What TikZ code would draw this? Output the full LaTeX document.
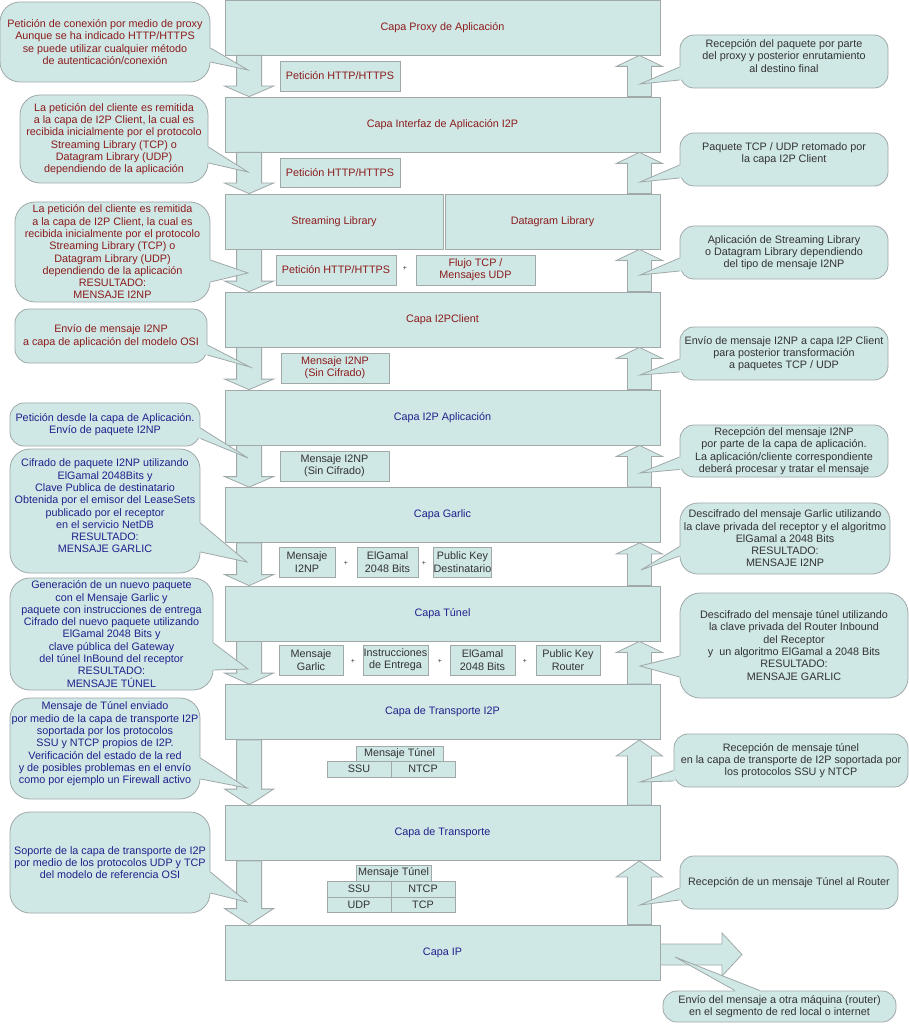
\documentclass[tikz,border=0pt]{standalone}
\usepackage{fontspec}
\setmainfont{Liberation Sans}
\definecolor{fillc}{RGB}{207,231,229}
\definecolor{edgec}{RGB}{160,168,168}
\definecolor{redt}{RGB}{140,28,28}
\definecolor{bluet}{RGB}{32,32,140}
\definecolor{grayt}{RGB}{51,51,51}
\tikzset{
  base/.style={draw=edgec, fill=fillc, line width=0.8pt, inner sep=0pt, align=center, font=\fontsize{10.8}{12.3}\selectfont},
  layer/.style={base, minimum height=55pt},
  pkt/.style={base, minimum height=30pt},
  call/.style={base, rounded corners=14pt},
  bigcall/.style={base, rounded corners=20pt},
  ctext/.style={inner sep=0pt, align=center, font=\fontsize{10.8}{12.3}\selectfont},
  plus/.style={inner sep=0pt, font=\fontsize{7}{8}\selectfont, text=grayt},
  arr/.style={draw=edgec, fill=fillc, line width=0.8pt, line join=miter},
  ptrline/.style={draw=edgec, line width=0.8pt, line join=miter},
  tred/.style={text=redt},
  tblue/.style={text=bluet},
  tgray/.style={text=grayt}
}
% down arrow: from layer #1 to layer #2, head height #3
\newcommand\darr[3]{\draw[arr] ([xshift=12pt]#1.south west) -- ([xshift=12pt,yshift=#3]#2.north west) -- ([yshift=#3]#2.north west) -- ([xshift=24.5pt]#2.north west) -- ([xshift=49pt,yshift=#3]#2.north west) -- ([xshift=37pt,yshift=#3]#2.north west) -- ([xshift=37pt]#1.south west) -- cycle;}
% up arrow: from lower layer #1 to upper layer #2, head height #3
\newcommand\uarr[3]{\draw[arr] ([xshift=-33pt]#1.north east) -- ([xshift=-33pt,yshift=-#3]#2.south east) -- ([xshift=-44pt,yshift=-#3]#2.south east) -- ([xshift=-21pt]#2.south east) -- ([xshift=2pt,yshift=-#3]#2.south east) -- ([xshift=-9pt,yshift=-#3]#2.south east) -- ([xshift=-9pt]#1.north east) -- cycle;}
% callout pointers
\newcommand\ptrE[4]{\fill[fillc] ([xshift=-2pt,yshift=#2]#1.east) -- ([yshift=#2]#1.east) -- (#4) -- ([yshift=#3]#1.east) -- ([xshift=-2pt,yshift=#3]#1.east) -- cycle;
  \draw[ptrline] ([yshift=#2]#1.east) -- (#4) -- ([yshift=#3]#1.east);}
\newcommand\ptrW[4]{\fill[fillc] ([xshift=2pt,yshift=#2]#1.west) -- ([yshift=#2]#1.west) -- (#4) -- ([yshift=#3]#1.west) -- ([xshift=2pt,yshift=#3]#1.west) -- cycle;
  \draw[ptrline] ([yshift=#2]#1.west) -- (#4) -- ([yshift=#3]#1.west);}
\newcommand\ptrN[4]{\fill[fillc] ([xshift=#2,yshift=-2pt]#1.north) -- ([xshift=#2]#1.north) -- (#4) -- ([xshift=#3]#1.north) -- ([xshift=#3,yshift=-2pt]#1.north) -- cycle;
  \draw[ptrline] ([xshift=#2]#1.north) -- (#4) -- ([xshift=#3]#1.north);}
\begin{document}
\begin{tikzpicture}[x=1pt,y=-1pt]
\fill[white] (0,0) rectangle (909,1024);
\useasboundingbox (0,0) rectangle (909,1024);

% ---------- layers ----------
\node[layer,tred,minimum width=435pt] (Lprox) at (442.5,27.5) {Capa Proxy de Aplicación};
\node[layer,tred,minimum width=435pt] (Lint) at (442.5,124.5) {Capa Interfaz de Aplicación I2P};
\node[layer,tred,minimum width=218pt] (Lstr) at (334,221.5) {Streaming Library};
\node[layer,tred,minimum width=215pt] (Ldat) at (552.5,221.5) {Datagram Library};
\node[layer,tred,minimum width=435pt] (Lcli) at (442.5,319.5) {Capa I2PClient};
\node[layer,tblue,minimum width=435pt] (Lapp) at (442.5,417.5) {Capa I2P Aplicación};
\node[layer,tblue,minimum width=435pt] (Lgar) at (442.5,515) {Capa Garlic};
\node[layer,tblue,minimum width=435pt] (Ltun) at (442.5,613.5) {Capa Túnel};
\node[layer,tblue,minimum width=435pt] (Ltri) at (442.5,712) {Capa de Transporte I2P};
\node[layer,tblue,minimum width=435pt] (Ltra) at (442.5,833) {Capa de Transporte};
\node[layer,tblue,minimum width=435pt] (Lip) at (442.5,952.5) {Capa IP};

% ---------- down arrows ----------
\darr{Lprox}{Lint}{10.5pt}
\darr{Lint}{Lstr}{10.5pt}
\darr{Lstr}{Lcli}{10.5pt}
\darr{Lcli}{Lapp}{10.5pt}
\darr{Lapp}{Lgar}{10.5pt}
\darr{Lgar}{Ltun}{11pt}
\darr{Ltun}{Ltri}{11pt}
\darr{Ltri}{Ltra}{16pt}
\darr{Ltra}{Lip}{16pt}

% ---------- up arrows ----------
\uarr{Lint}{Lprox}{11pt}
\uarr{Ldat}{Lint}{11pt}
\uarr{Lcli}{Ldat}{11pt}
\uarr{Lapp}{Lcli}{11pt}
\uarr{Lgar}{Lapp}{11pt}
\uarr{Ltun}{Lgar}{11pt}
\uarr{Ltri}{Ltun}{11pt}
\uarr{Ltra}{Ltri}{16pt}
\uarr{Lip}{Ltra}{16pt}

% ---------- outgoing arrow ----------
\coordinate (out) at (742,954.5);
\draw[arr] ([yshift=8.5pt]Lip.east) -- ([xshift=-20pt,yshift=10.5pt]out) -- ([xshift=-20pt,yshift=21.5pt]out) -- (out) -- ([xshift=-20pt,yshift=-21.5pt]out) -- ([xshift=-20pt,yshift=-10.5pt]out) -- ([yshift=-12.5pt]Lip.east) -- cycle;

% ---------- packets ----------
\node[pkt,tred,minimum width=120pt] (p1) at (340,76) {Petición HTTP/HTTPS};
\node[pkt,tred,minimum width=120pt,minimum height=29pt] (p2) at (340,172.5) {Petición HTTP/HTTPS};
\node[pkt,tred,minimum width=120pt] (p3a) at (336,270) {Petición HTTP/HTTPS};
\node[plus] (p3s) at (405,268) {+};
\node[pkt,tred,minimum width=119pt] (p3b) at (475.5,270) {Flujo TCP /\\Mensajes UDP};
\node[pkt,tred,minimum width=108pt] (p4) at (335,368) {Mensaje I2NP\\(Sin Cifrado)};
\node[pkt,tgray,minimum width=109pt] (p5) at (334.5,466) {Mensaje I2NP\\(Sin Cifrado)};
\node[pkt,tgray,minimum width=56pt] (p6a) at (307,562) {Mensaje\\I2NP};
\node[plus] (p6s1) at (346,563) {+};
\node[pkt,tgray,minimum width=61pt] (p6b) at (387.5,562) {ElGamal\\2048 Bits};
\node[plus] (p6s2) at (424,563) {+};
\node[pkt,tgray,minimum width=57pt] (p6c) at (462.5,562) {Public Key\\Destinatario};
\node[pkt,tgray,minimum width=64pt] (p7a) at (311,660) {Mensaje\\Garlic};
\node[plus] (p7s1) at (353,661) {+};
\node[pkt,tgray,minimum width=65pt] (p7b) at (395.5,660) {Instrucciones\\de Entrega};
\node[plus] (p7s2) at (440,661) {+};
\node[pkt,tgray,minimum width=65pt] (p7c) at (482.5,660) {ElGamal\\2048 Bits};
\node[plus] (p7s3) at (525,661) {+};
\node[pkt,tgray,minimum width=64pt] (p7d) at (568,660) {Public Key\\Router};
\node[pkt,tgray,minimum width=87pt,minimum height=15pt] (p8a) at (399.5,753.5) {Mensaje Túnel};
\node[pkt,tgray,minimum width=64pt,minimum height=16pt] (p8b) at (359,769) {SSU};
\node[pkt,tgray,minimum width=64pt,minimum height=16pt] (p8c) at (423,769) {NTCP};
\node[pkt,tgray,minimum width=75pt,minimum height=16pt] (p9a) at (393.5,873) {Mensaje Túnel};
\node[pkt,tgray,minimum width=64pt,minimum height=16pt] (p9b) at (359,889) {SSU};
\node[pkt,tgray,minimum width=64pt,minimum height=16pt] (p9c) at (423,889) {NTCP};
\node[pkt,tgray,minimum width=64pt,minimum height=15pt] (p9d) at (359,904.5) {UDP};
\node[pkt,tgray,minimum width=64pt,minimum height=15pt] (p9e) at (423,904.5) {TCP};

% ---------- pointer tips ----------
\coordinate (tL1) at (248,70);
\coordinate (tL2) at (248,172);
\coordinate (tL3) at (248,273);
\coordinate (tL4) at (250,367);
\coordinate (tL5) at (248,458);
\coordinate (tL6) at (247,562);
\coordinate (tL7) at (248,669);
\coordinate (tL8) at (247,788);
\coordinate (tL9) at (247,902);
\coordinate (tR1) at (640,84);
\coordinate (tR2) at (640,182);
\coordinate (tR3) at (640,275);
\coordinate (tR4) at (640,375);
\coordinate (tR5) at (640,473);
\coordinate (tR6) at (641,570);
\coordinate (tR7) at (640,666);
\coordinate (tR8) at (640,782);
\coordinate (tR9) at (640,905);
\coordinate (tR10) at (675,957);

% ---------- left callouts ----------
\node[bigcall,tred,minimum width=210pt,minimum height=80pt] (cL1) at (105,42) {Petición de conexión por medio de proxy\\Aunque se ha indicado HTTP/HTTPS\\se puede utilizar cualquier método\\de autenticación/conexión};
\ptrE{cL1}{-6pt}{-20pt}{tL1}
\node[bigcall,tred,minimum width=188pt,minimum height=88pt] (cL2) at (114,139) {La petición del cliente es remitida\\a la capa de I2P Client, la cual es\\recibida inicialmente por el protocolo\\Streaming Library (TCP) o\\Datagram Library (UDP)\\dependiendo de la aplicación};
\ptrE{cL2}{-8pt}{-24pt}{tL2}
\node[bigcall,tred,minimum width=195pt,minimum height=100pt] (cL3) at (112.5,252) {La petición del cliente es remitida\\a la capa de I2P Client, la cual es\\recibida inicialmente por el protocolo\\Streaming Library (TCP) o\\Datagram Library (UDP)\\dependiendo de la aplicación\\RESULTADO:\\MENSAJE I2NP};
\ptrE{cL3}{-8pt}{-30pt}{tL3}
\node[call,tred,minimum width=192pt,minimum height=54pt] (cL4) at (111,336) {Envío de mensaje I2NP\\a capa de aplicación del modelo OSI};
\ptrE{cL4}{-9pt}{-19pt}{tL4}
\node[call,tblue,minimum width=190pt,minimum height=43pt] (cL5) at (105,424.5) {Petición desde la capa de Aplicación.\\Envío de paquete I2NP};
\ptrE{cL5}{-3.5pt}{-14pt}{tL5}
\node[bigcall,minimum width=190pt,minimum height=124pt] (cL6) at (105,511) {};
\ptrE{cL6}{-12pt}{-41pt}{tL6}
\node[ctext,tblue] (cL6t) at (105,506) {Cifrado de paquete I2NP utilizando\\ElGamal 2048Bits y\\Clave Publica de destinatario\\Obtenida por el emisor del LeaseSets\\publicado por el receptor\\en el servicio NetDB\\RESULTADO:\\MENSAJE GARLIC};
\node[bigcall,tblue,minimum width=203pt,minimum height=112pt] (cL7) at (111.5,634) {Generación de un nuevo paquete\\con el Mensaje Garlic y\\paquete con instrucciones de entrega\\Cifrado del nuevo paquete utilizando\\ElGamal 2048 Bits y\\clave pública del Gateway\\del túnel InBound del receptor\\RESULTADO:\\MENSAJE TÚNEL};
\ptrE{cL7}{-9pt}{-36pt}{tL7}
\node[bigcall,minimum width=190pt,minimum height=101pt] (cL8) at (105,748.5) {};
\ptrE{cL8}{-9.5pt}{-30.5pt}{tL8}
\node[ctext,tblue] (cL8t) at (105,744) {Mensaje de Túnel enviado\\por medio de la capa de transporte I2P\\soportada por los protocolos\\SSU y NTCP propios de I2P.\\Verificación del estado de la red\\y de posibles problemas en el envío\\como por ejemplo un Firewall activo};
\node[bigcall,tblue,minimum width=200pt,minimum height=101pt] (cL9) at (110,862.5) {Soporte de la capa de transporte de I2P\\por medio de los protocolos UDP y TCP\\del modelo de referencia OSI};
\ptrE{cL9}{-9.5pt}{-30.5pt}{tL9}

% ---------- right callouts ----------
\node[call,minimum width=208pt,minimum height=53pt] (cR1) at (784,61.5) {};
\ptrW{cR1}{-5.5pt}{-18.5pt}{tR1}
\node[ctext,tgray] (cR1t) at (784,56) {Recepción del paquete por parte\\del proxy y posterior enrutamiento\\al destino final};
\node[call,minimum width=208pt,minimum height=53pt] (cR2) at (784,159.5) {};
\ptrW{cR2}{-5.5pt}{-18.5pt}{tR2}
\node[ctext,tgray] (cR2t) at (784,154) {Paquete TCP / UDP retomado por\\la capa I2P Client};
\node[call,tgray,minimum width=208pt,minimum height=53pt] (cR3) at (784,252.5) {Aplicación de Streaming Library\\o Datagram Library dependiendo\\del tipo de mensaje I2NP};
\ptrW{cR3}{-5.5pt}{-18.5pt}{tR3}
\node[call,tgray,minimum width=208pt,minimum height=53pt] (cR4) at (784,353.5) {Envío de mensaje I2NP a capa I2P Client\\para posterior transformación\\a paquetes TCP / UDP};
\ptrW{cR4}{-5.5pt}{-18.5pt}{tR4}
\node[call,tgray,minimum width=208pt,minimum height=52pt] (cR5) at (784,451) {Recepción del mensaje I2NP\\por parte de la capa de aplicación.\\La aplicación/cliente correspondiente\\deberá procesar y tratar el mensaje};
\ptrW{cR5}{-6pt}{-18.5pt}{tR5}
\node[base,rounded corners=18pt,tgray,minimum width=210pt,minimum height=71pt] (cR6) at (785,538.5) {Descifrado del mensaje Garlic utilizando\\la clave privada del receptor y el algoritmo\\ElGamal a 2048 Bits\\RESULTADO:\\MENSAJE I2NP};
\ptrW{cR6}{-8pt}{-17.5pt}{tR6}
\node[bigcall,tgray,minimum width=228pt,minimum height=105pt] (cR7) at (794,645.5) {Descifrado del mensaje túnel utilizando\\la clave privada del Router Inbound\\del Receptor\\y\ \ un algoritmo ElGamal a 2048 Bits\\RESULTADO:\\MENSAJE GARLIC};
\ptrW{cR7}{-10.5pt}{-31.5pt}{tR7}
\node[call,tgray,minimum width=234pt,minimum height=53pt] (cR8) at (791,760.5) {Recepción de mensaje túnel\\en la capa de transporte de I2P soportada por\\los protocolos SSU y NTCP};
\ptrW{cR8}{-10pt}{-20.5pt}{tR8}
\node[call,tgray,minimum width=218pt,minimum height=53pt] (cR9) at (789,882.5) {Recepción de un mensaje Túnel al Router};
\ptrW{cR9}{-5.5pt}{-17.5pt}{tR9}
\node[call,tgray,minimum width=233pt,minimum height=31pt] (cR10) at (779.5,1006.5) {Envío del mensaje a otra máquina (router)\\en el segmento de red local o internet};
\ptrN{cR10}{-44.5pt}{-19.5pt}{tR10}
\end{tikzpicture}
\end{document}
